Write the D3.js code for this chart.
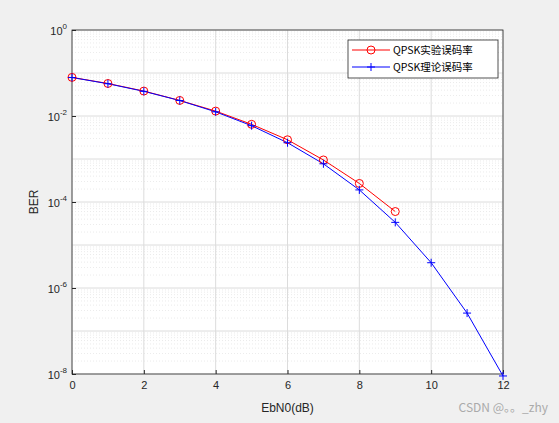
<!DOCTYPE html><html><head><meta charset="utf-8">
<script src="https://cdn.jsdelivr.net/npm/d3@7"></script>
<style>body{margin:0;background:#f0f0f0}svg{font-family:Arial,"Liberation Sans",sans-serif}</style></head><body>
<svg id="c" width="559" height="423"></svg>
<script>
const ebn0=[0,1,2,3,4,5,6,7,8,9,10,11,12];
const berSim=[0.079,0.057,0.038,0.023,0.013,0.0064,0.0028,0.00095,0.00027,0.00006];
const berTheory=[0.0786,0.0563,0.0375,0.0229,0.0125,0.00595,0.00239,0.000773,0.000191,0.0000336,0.00000387,0.000000261,0.000000009];
const xTicks=[0,2,4,6,8,10,12];
const yTicks=[0,-2,-4,-6,-8];
const labels=["QPSK实验误码率","QPSK理论误码率"];
const svg=d3.select("#c");
const L=72,R=503,T=30,B=374;
const x=d3.scaleLinear().domain([0,12]).range([L,R]);
const y=d3.scaleLog().domain([1e-8,1]).range([B,T]);
svg.append("rect").attr("x",L).attr("y",T).attr("width",R-L).attr("height",B-T).attr("fill","#fff");
const g=svg.append("g");
// minor grid
for(let e=-8;e<0;e++)for(let m=2;m<10;m++){const v=m*Math.pow(10,e);
 g.append("line").attr("x1",L).attr("x2",R).attr("y1",y(v)).attr("y2",y(v)).attr("stroke","#ddd").attr("stroke-width",0.6).attr("stroke-dasharray","1,2");}
for(let e=-8;e<=0;e++)g.append("line").attr("x1",L).attr("x2",R).attr("y1",y(Math.pow(10,e))).attr("y2",y(Math.pow(10,e))).attr("stroke","#dcdcdc");
xTicks.forEach(t=>g.append("line").attr("x1",x(t)).attr("x2",x(t)).attr("y1",T).attr("y2",B).attr("stroke","#dcdcdc"));
svg.append("rect").attr("x",L).attr("y",T).attr("width",R-L).attr("height",B-T).attr("fill","none").attr("stroke","#262626").attr("stroke-width",0.8);
svg.append("g").attr("transform",`translate(0,${B})`).call(d3.axisBottom(x).tickValues(xTicks).tickSize(-4).tickPadding(7))
 .call(a=>{a.select(".domain").remove();a.selectAll("text").attr("font-size",11).attr("fill","#262626");a.selectAll("line").attr("stroke","#262626");});
const ya=svg.append("g").attr("transform",`translate(${L},0)`).call(d3.axisLeft(y).tickValues(yTicks.map(e=>Math.pow(10,e))).tickSize(-4).tickFormat(""));
ya.select(".domain").remove();ya.selectAll("line").attr("stroke","#262626");
yTicks.forEach(e=>{const t=svg.append("text").attr("x",L-5).attr("y",y(Math.pow(10,e))+5).attr("text-anchor","end").attr("font-size",11).attr("fill","#262626");
 t.append("tspan").text("10");t.append("tspan").attr("dy",-6).attr("font-size",8).text(e);});
svg.append("text").attr("x",(L+R)/2).attr("y",412).attr("text-anchor","middle").attr("font-size",12).attr("fill","#262626").text("EbN0(dB)");
svg.append("text").attr("transform",`translate(38,${(T+B)/2}) rotate(-90)`).attr("text-anchor","middle").attr("font-size",12).attr("fill","#262626").text("BER");
const line=d3.line().x((d,i)=>x(ebn0[i])).y(d=>y(d));
svg.append("path").datum(berSim).attr("d",line).attr("fill","none").attr("stroke","#f00").attr("stroke-width",1);
svg.append("path").datum(berTheory).attr("d",line).attr("fill","none").attr("stroke","#00f").attr("stroke-width",1);
svg.selectAll(".o").data(berSim).join("circle").attr("cx",(d,i)=>x(ebn0[i])).attr("cy",d=>y(d)).attr("r",4).attr("fill","none").attr("stroke","#f00");
const plus=(s,cx,cy)=>s.append("path").attr("d",`M${cx-4},${cy}H${cx+4}M${cx},${cy-4}V${cy+4}`).attr("stroke","#00f");
berTheory.forEach((d,i)=>plus(svg,x(ebn0[i]),y(d)));
// legend
const lg=svg.append("g");
lg.append("rect").attr("x",348).attr("y",40).attr("width",150).attr("height",38).attr("fill","#fff").attr("stroke","#262626").attr("stroke-width",0.8);
lg.append("line").attr("x1",352).attr("x2",390).attr("y1",50).attr("y2",50).attr("stroke","#f00");
lg.append("circle").attr("cx",371).attr("cy",50).attr("r",4).attr("fill","none").attr("stroke","#f00");
lg.append("line").attr("x1",352).attr("x2",390).attr("y1",67).attr("y2",67).attr("stroke","#00f");
plus(lg,371,67);
labels.forEach((l,i)=>lg.append("text").attr("x",393).attr("y",54+i*17).attr("font-size",10.5).attr("fill","#000").attr("font-family","'Noto Sans CJK SC',sans-serif").text(l));
svg.append("text").attr("x",548).attr("y",412).attr("text-anchor","end").attr("font-size",12).attr("fill","#aaa").attr("font-family","'Noto Sans CJK SC',sans-serif").text("CSDN @。。_zhy");
</script></body></html>
